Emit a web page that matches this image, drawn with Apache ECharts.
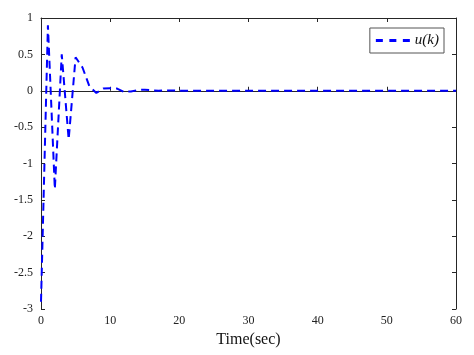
<!DOCTYPE html>
<html>
<head>
<meta charset="utf-8">
<script src="https://cdn.jsdelivr.net/npm/echarts@6/dist/echarts.min.js"></script>
<style>html,body{margin:0;padding:0;background:#fff}#c{width:474px;height:355px}</style>
</head>
<body>
<div id="c"></div>
<script>
var times = [0,1,2,3,4,5,6,7,8,9,10,11,12,13,14,15,16,17,18,19,20,21,22,23,24,25,26,27,28,29,30,31,32,33,34,35,36,37,38,39,40,41,42,43,44,45,46,47,48,49,50,51,52,53,54,55,56,57,58,59,60];
var uValues = [-2.9,0.9,-1.35,0.5,-0.67,0.46,0.32,0.06,-0.03,0.03,0.035,0.03,-0.015,-0.01,0.01,0.015,0.005,0,0.005,0.005,0,0,0,0,0,0,0,0,0,0,0,0,0,0,0,0,0,0,0,0,0,0,0,0,0,0,0,0,0,0,0,0,0,0,0,0,0,0,0,0,0];
var xTicks = [0,10,20,30,40,50,60];
var yTicks = [-3,-2.5,-2,-1.5,-1,-0.5,0,0.5,1];
var seriesName = 'u(k)';
var xLabel = 'Time(sec)';

var pts = times.map(function(t,i){return [t, uValues[i]];});
var axisColor = '#262626';
var font = 'Liberation Serif';
function fmt(v){return String(v);}
var chart = echarts.init(document.getElementById('c'));
chart.setOption({
  animation:false,
  backgroundColor:'#fff',
  grid:{left:41,right:18,top:18,bottom:46},
  legend:{
    data:[{name:seriesName,icon:'path://M0,0h7v3h-7zM13.5,0h7v3h-7zM27,0h7v3h-7z'}],
    right:30, top:28,
    orient:'vertical',
    itemWidth:34, itemHeight:3,
    padding:[5,5,5,6],
    borderColor:'#555', borderWidth:1,
    backgroundColor:'#fff',
    itemGap:0,
    itemStyle:{color:'#0000ff'},
    textStyle:{fontFamily:font,fontStyle:'italic',fontSize:15,color:'#111'}
  },
  xAxis:[{
    type:'value',min:0,max:60,interval:10,
    name:xLabel,nameLocation:'middle',nameGap:22,
    nameTextStyle:{fontFamily:font,fontSize:16,color:'#111'},
    axisLine:{show:true,lineStyle:{color:axisColor,width:1}},
    axisTick:{show:true,inside:true,length:4,lineStyle:{color:axisColor}},
    axisLabel:{fontFamily:font,fontSize:12,color:'#222',margin:6,formatter:fmt},
    splitLine:{show:false}
  },{
    type:'value',min:0,max:60,interval:10,position:'top',
    axisLine:{show:true,onZero:false,lineStyle:{color:axisColor,width:1}},
    axisTick:{show:true,inside:true,length:4,lineStyle:{color:axisColor}},
    axisLabel:{show:false},splitLine:{show:false}
  }],
  yAxis:[{
    type:'value',min:-3,max:1,interval:0.5,
    axisLine:{show:true,onZero:false,lineStyle:{color:axisColor,width:1}},
    axisTick:{show:true,inside:true,length:4,lineStyle:{color:axisColor}},
    axisLabel:{fontFamily:font,fontSize:12,color:'#222',margin:8,formatter:fmt},
    splitLine:{show:false}
  },{
    type:'value',min:-3,max:1,interval:0.5,position:'right',
    axisLine:{show:true,onZero:false,lineStyle:{color:axisColor,width:1}},
    axisTick:{show:true,inside:true,length:4,lineStyle:{color:axisColor}},
    axisLabel:{show:false},splitLine:{show:false}
  }],
  series:[{
    name:seriesName,type:'line',data:pts,
    xAxisIndex:0,yAxisIndex:0,
    symbol:'none',
    lineStyle:{color:'#0000ff',width:2,type:[8,5]},
    itemStyle:{color:'#0000ff'}
  }]
});
</script>
</body>
</html>
